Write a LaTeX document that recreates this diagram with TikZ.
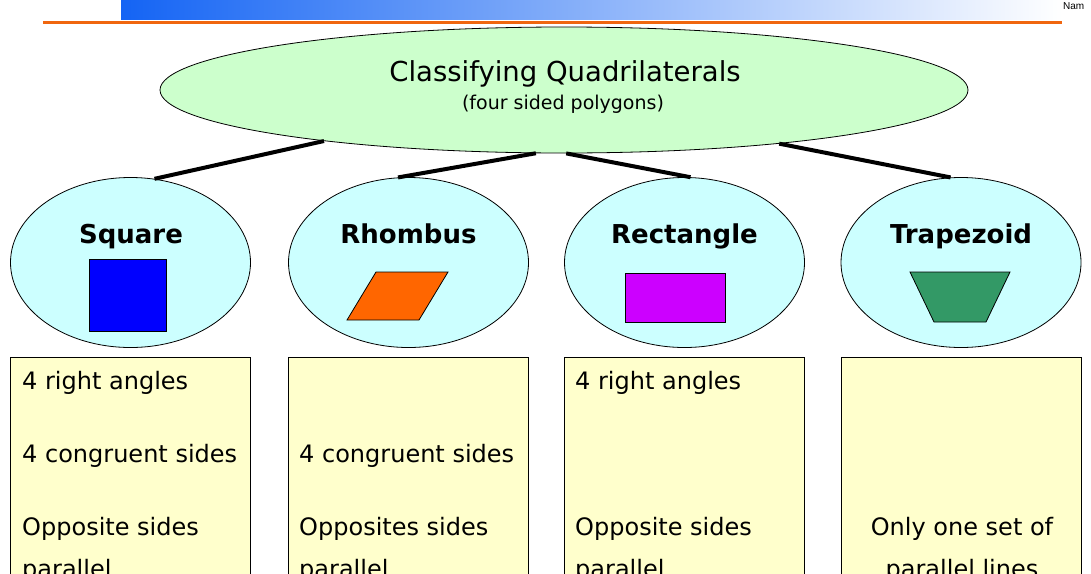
\documentclass[tikz,border=0pt]{standalone}
\usepackage{fontspec}
\setmainfont{DejaVu Sans}
\newfontfamily\namefont{Liberation Sans}
\usetikzlibrary{shapes.geometric}
\definecolor{barblue}{HTML}{1464F4}
\definecolor{lineorange}{HTML}{F0660F}
\definecolor{titlegreen}{HTML}{CCFFCC}
\definecolor{ovalcyan}{HTML}{CCFFFF}
\definecolor{boxyellow}{HTML}{FFFFCC}
\definecolor{sqblue}{HTML}{0000FF}
\definecolor{rhorange}{HTML}{FF6600}
\definecolor{rcmagenta}{HTML}{CC00FF}
\definecolor{tzgreen}{HTML}{339966}

\begin{document}
\begin{tikzpicture}
	[x=1pt,y=-1pt,every node/.style={inner sep=0pt},
	bigoval/.style={ellipse,draw=black,line width=0.8pt,fill=titlegreen,minimum width=808pt,minimum height=126pt},
	kindoval/.style={ellipse,draw=black,line width=0.8pt,fill=ovalcyan,minimum width=240pt,minimum height=170pt},
	factbox/.style={rectangle,draw=black,line width=0.8pt,fill=boxyellow,minimum width=240pt,minimum height=240pt,anchor=north},
	kindname/.style={anchor=base,font=\bfseries\fontsize{26}{30}\selectfont},
	fact/.style={anchor=base west,font=\fontsize{24}{28}\selectfont},
	link/.style={line width=4pt}]
	\useasboundingbox (0,0) rectangle (1091,573);
	\clip (0,0) rectangle (1091,573);
	
	% header strip
	\shade[left color=barblue,right color=white] (121,0) rectangle (1062,19);
	\draw[lineorange,line width=3pt] (43,22) -- (1062,22);
	\node[anchor=base west,font=\namefont\fontsize{10}{12}\selectfont] (nam) at (1063,9) {Nam};
	
	\node[bigoval] (quad) at (564,90) {};
	\node[anchor=base,font=\fontsize{27.5}{32}\selectfont] (ttl) at (565,81) {Classifying Quadrilaterals};
	\node[anchor=base,font=\fontsize{19}{23}\selectfont] (sub) at (563,109) {(four sided polygons)};
	
	\node[kindoval] (sq) at (130.5,262.5) {};
	\node[kindoval] (rh) at (408.5,262.5) {};
	\node[kindoval] (rc) at (684.5,262.5) {};
	\node[kindoval] (tz) at (961,262.5) {};
	
	\foreach \from/\to in {quad.192.7/sq.74,quad.246.8/rh.97,quad.272/rc.86,quad.346.8/tz.97}
	\draw[link] (\from) -- (\to);
	
	\node[kindname] (sqname) at (131,243) {Square};
	\node[kindname] (rhname) at (408.5,243) {Rhombus};
	\node[kindname] (rcname) at (684.5,243) {Rectangle};
	\node[kindname] (tzname) at (961,243) {Trapezoid};
	
	% the four shapes
	\filldraw[fill=sqblue,draw=black,line width=0.8pt] (89,259) rectangle (166,331);
	\filldraw[fill=rhorange,draw=black,line width=0.8pt] (347,320) -- (419,320) -- (448,272) -- (376,272) -- cycle;
	\filldraw[fill=rcmagenta,draw=black,line width=0.8pt] (625,273) rectangle (725,322);
	\filldraw[fill=tzgreen,draw=black,line width=0.8pt] (910,272) -- (1010,272) -- (986,322) -- (934,322) -- cycle;
	
	\node[factbox] (sqbox) at (130.5,357) {};
	\node[factbox] (rhbox) at (408.5,357) {};
	\node[factbox] (rcbox) at (684.5,357) {};
	\node[factbox] (tzbox) at (961,357) {};
	
	\node[fact] (sq1) at (22,389) {4 right angles};
	\node[fact] (sq2) at (22,462) {4 congruent sides};
	\node[fact] (sq3) at (22,535) {Opposite sides};
	\node[fact] (sq4) at (22,577) {parallel};
	\node[fact] (rh2) at (299,462) {4 congruent sides};
	\node[fact] (rh3) at (299,535) {Opposites sides};
	\node[fact] (rh4) at (299,577) {parallel};
	\node[fact] (rc1) at (575,389) {4 right angles};
	\node[fact] (rc3) at (575,535) {Opposite sides};
	\node[fact] (rc4) at (575,577) {parallel};
	\node[fact,anchor=base] (tz3) at (962,535) {Only one set of};
	\node[fact,anchor=base] (tz4) at (962,577) {parallel lines};
\end{tikzpicture}
\end{document}
